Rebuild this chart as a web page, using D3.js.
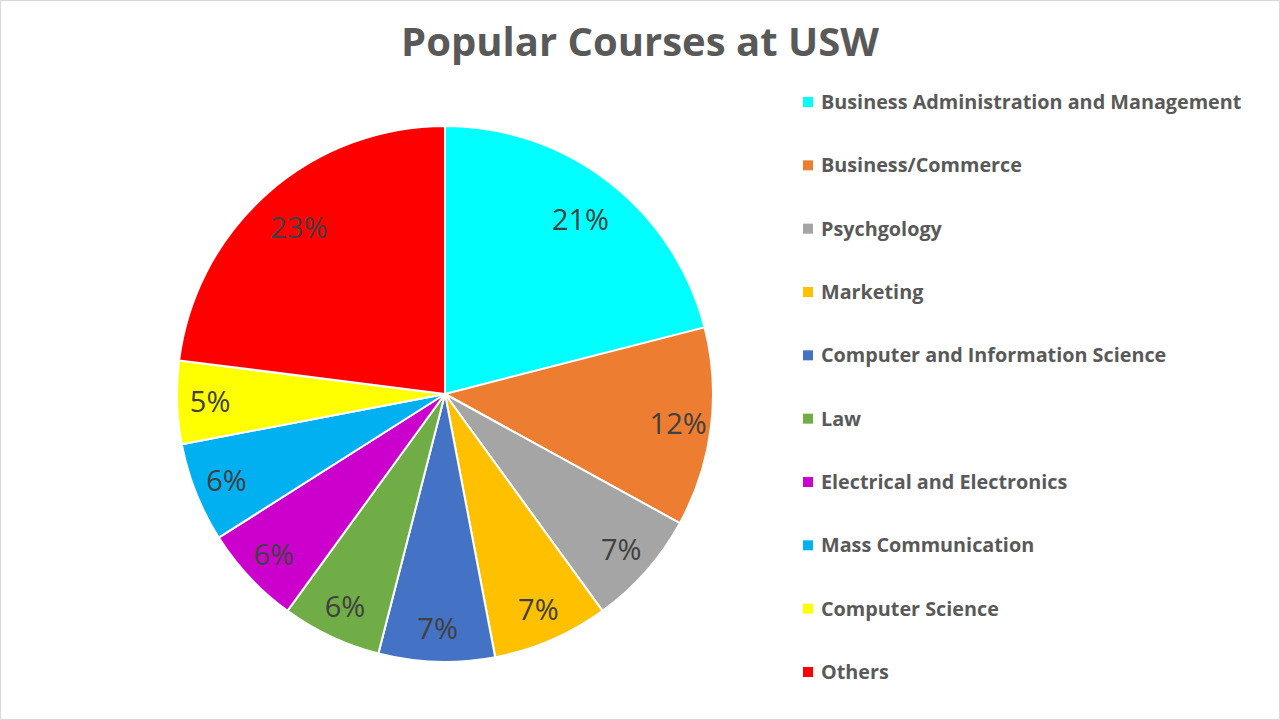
<!DOCTYPE html>
<html><head><meta charset="utf-8">
<script src="https://cdn.jsdelivr.net/npm/d3@7"></script>
<style>body{margin:0;background:#fff}svg{display:block}</style>
</head><body><svg id="c" width="1280" height="720"></svg>
<script>
const categories = ["Business Administration and Management","Business/Commerce","Psychgology","Marketing","Computer and Information Science","Law","Electrical and Electronics","Mass Communication","Computer Science","Others"];
const values = [21,12,7,7,7,6,6,6,5,23];
const colors = ["#00FFFF","#ED7D31","#A5A5A5","#FFC000","#4472C4","#70AD47","#CC00CC","#00B0F0","#FFFF00","#FF0000"];
const svg = d3.select("#c");
svg.append("rect").attr("x",0.5).attr("y",0.5).attr("width",1279).attr("height",719).attr("fill","#fff").attr("stroke","#d9d9d9");
svg.append("text").attr("x",640).attr("y",56).attr("text-anchor","middle")
  .attr("font-family","Open Sans, sans-serif").attr("font-weight","bold").attr("font-size",40).attr("fill","#595959")
  .text("Popular Courses at USW");
const cx=445, cy=394, R=268;
const pie = d3.pie().sort(null).value(d=>d)(values);
const arc = d3.arc().innerRadius(0).outerRadius(R);
const lab = d3.arc().innerRadius(d=>d.data>15?221:235).outerRadius(d=>d.data>15?221:235);
const g = svg.append("g").attr("transform",`translate(${cx},${cy})`);
g.selectAll("path").data(pie).join("path").attr("d",arc).attr("fill",(d,i)=>colors[i]).attr("stroke","#fff").attr("stroke-width",2);
g.selectAll("text").data(pie).join("text").attr("transform",d=>`translate(${lab.centroid(d)})`)
  .attr("text-anchor","middle").attr("dy","0.35em").attr("font-family","Open Sans, sans-serif").attr("font-size",29).attr("fill","#404040")
  .text(d=>d.data+"%");
const y = d3.scalePoint().domain(categories).range([102,672]);
const lg = svg.append("g");
categories.forEach((c,i)=>{
  lg.append("rect").attr("x",803).attr("y",y(c)-5).attr("width",10).attr("height",10).attr("fill",colors[i]);
  lg.append("text").attr("x",821).attr("y",y(c)).attr("dy","0.35em").attr("font-family","Open Sans, sans-serif")
    .attr("font-weight","bold").attr("font-size",19.8).attr("fill","#595959").text(c);
});
</script></body></html>
